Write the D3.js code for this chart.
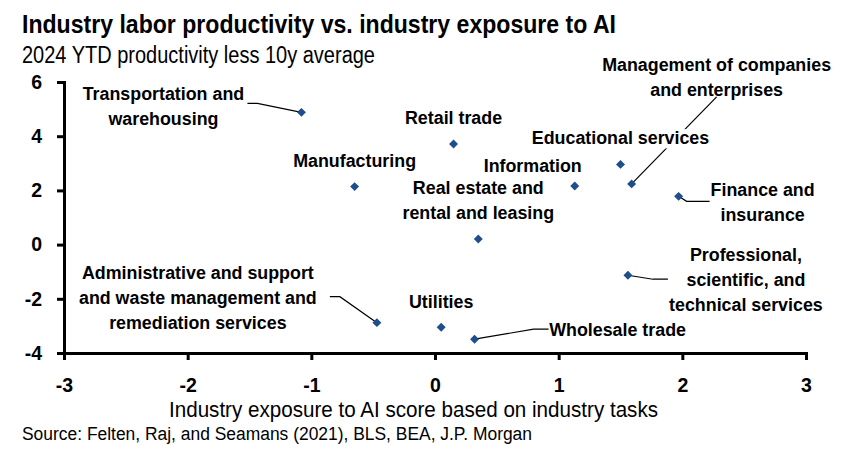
<!DOCTYPE html>
<html>
<head>
<meta charset="utf-8">
<script src="https://cdn.jsdelivr.net/npm/d3@7"></script>
<style>
  html, body { margin: 0; padding: 0; background: #fff; }
  svg { display: block; font-family: "Liberation Sans", Arial, sans-serif; }
</style>
</head>
<body>
<svg id="chart" width="850" height="457"></svg>
<script>
// ---- Data ----
const industries = [
  "Transportation and warehousing",
  "Retail trade",
  "Manufacturing",
  "Educational services",
  "Information",
  "Real estate and rental and leasing",
  "Management of companies and enterprises",
  "Finance and insurance",
  "Professional, scientific, and technical services",
  "Utilities",
  "Wholesale trade",
  "Administrative and support and waste management and remediation services"
];
const exposure     = [-1.08, 0.15, -0.65, 1.50, 1.13, 0.35, 1.59, 1.97, 1.56, 0.05, 0.32, -0.47];
const productivity = [ 4.88, 3.71,  2.14, 2.96, 2.16, 0.21, 2.24, 1.78, -1.13, -3.05, -3.49, -2.88];

const xTicks = [-3, -2, -1, 0, 1, 2, 3];
const yTicks = [-4, -2, 0, 2, 4, 6];

const titleText = "Industry labor productivity vs. industry exposure to AI";
const subtitleText = "2024 YTD productivity less 10y average";
const xAxisTitle = "Industry exposure to AI score based on industry tasks";
const sourceText = "Source: Felten, Raj, and Seamans (2021), BLS, BEA, J.P. Morgan";

// ---- Label layout (pixel offsets from each point) ----
const labelLines = [
  ["Transportation and", "warehousing"],
  ["Retail trade"],
  ["Manufacturing"],
  ["Educational services"],
  ["Information"],
  ["Real estate and", "rental and leasing"],
  ["Management of companies", "and enterprises"],
  ["Finance and", "insurance"],
  ["Professional,", "scientific, and", "technical services"],
  ["Utilities"],
  ["Wholesale trade"],
  ["Administrative and support", "and waste management and", "remediation services"]
];
const labelOffset = [
  [-138, -12], [0, -20], [0, -20], [0, -20], [-42, -14], [0, -45],
  [85, -113], [84, 0], [118, -14], [0, -19], [143, -3], [-179, -44]
];
const leaders = [
  [[-54, -9], [-44, -9], [0, 0]],
  null, null, null, null, null,
  [[85, -87], [0, 0]],
  [[0, 0], [8, 5], [31, 5]],
  [[0, 0], [25, 4], [40, 4]],
  null,
  [[0, 0], [59, -10], [74, -10]],
  [[-47, -26], [-37, -26], [0, 0]]
];

// ---- Drawing ----
const svg = d3.select("#chart");
const x = d3.scaleLinear().domain([-3, 3]).range([64, 806]);
const y = d3.scaleLinear().domain([-4, 6]).range([353, 82]);

svg.append("text").attr("x", 22).attr("y", 32.5)
  .attr("font-size", 25).attr("font-weight", "bold").attr("fill", "#000")
  .attr("textLength", 594).attr("lengthAdjust", "spacingAndGlyphs")
  .text(titleText);
svg.append("text").attr("x", 22).attr("y", 62.5)
  .attr("font-size", 23).attr("fill", "#000")
  .attr("textLength", 353).attr("lengthAdjust", "spacingAndGlyphs")
  .text(subtitleText);

// axes
const fmt = d => String(d);
const yAxis = d3.axisLeft(y).tickValues(yTicks).tickSize(7).tickSizeOuter(0).tickPadding(15).tickFormat(fmt);
const xAxis = d3.axisBottom(x).tickValues(xTicks).tickSize(7).tickSizeOuter(0).tickPadding(18).tickFormat(fmt);

const gy = svg.append("g").attr("transform", `translate(${x(-3)},0)`).call(yAxis);
const gx = svg.append("g").attr("transform", `translate(0,${y(-4)})`).call(xAxis);
[gx, gy].forEach(g => {
  g.select(".domain").attr("stroke", "#000").attr("stroke-width", 3).attr("stroke-linecap", "square");
  g.selectAll(".tick line").attr("stroke", "#000").attr("stroke-width", 3);
  g.selectAll(".tick text").attr("font-size", 19.5).attr("font-weight", "bold")
    .attr("fill", "#000").attr("font-family", "'Liberation Sans', Arial, sans-serif");
});

svg.append("text").attr("x", 169).attr("y", 416.5)
  .attr("font-size", 22).attr("fill", "#000")
  .attr("textLength", 489).attr("lengthAdjust", "spacingAndGlyphs")
  .text(xAxisTitle);
svg.append("text").attr("x", 22).attr("y", 440)
  .attr("font-size", 18).attr("fill", "#000")
  .attr("textLength", 510).attr("lengthAdjust", "spacingAndGlyphs")
  .text(sourceText);

// leader lines
const line = d3.line();
const gLead = svg.append("g");
industries.forEach((d, i) => {
  if (!leaders[i]) return;
  const px = x(exposure[i]), py = y(productivity[i]);
  gLead.append("path")
    .attr("d", line(leaders[i].map(p => [px + p[0], py + p[1]])))
    .attr("fill", "none").attr("stroke", "#000").attr("stroke-width", 1.2);
});

// labels
const gLab = svg.append("g");
industries.forEach((d, i) => {
  const px = x(exposure[i]), py = y(productivity[i]);
  const cx = px + labelOffset[i][0];
  const t = gLab.append("text")
    .attr("x", cx).attr("y", py + labelOffset[i][1])
    .attr("text-anchor", "middle").attr("font-size", 18.5).attr("font-weight", "bold").attr("fill", "#000");
  labelLines[i].forEach((ln, k) => {
    t.append("tspan").attr("x", cx).attr("dy", k === 0 ? 0 : 25).text(ln);
  });
  t.attr("transform", `translate(${cx},0) scale(0.965,1) translate(${-cx},0)`);
  if (i === 3) {
    const bb = t.node().getBBox();
    gLab.insert("rect", () => t.node())
      .attr("x", cx + (bb.x - cx) * 0.965 - 2).attr("y", bb.y + 1)
      .attr("width", bb.width * 0.965 + 4).attr("height", bb.height - 1)
      .attr("fill", "#fff");
  }
});

// points
svg.append("g").selectAll("path")
  .data(industries)
  .join("path")
  .attr("transform", (d, i) => `translate(${x(exposure[i])},${y(productivity[i])}) rotate(45)`)
  .attr("d", d3.symbol().type(d3.symbolSquare).size(40))
  .attr("fill", "#1f4e8c");
</script>
</body>
</html>
